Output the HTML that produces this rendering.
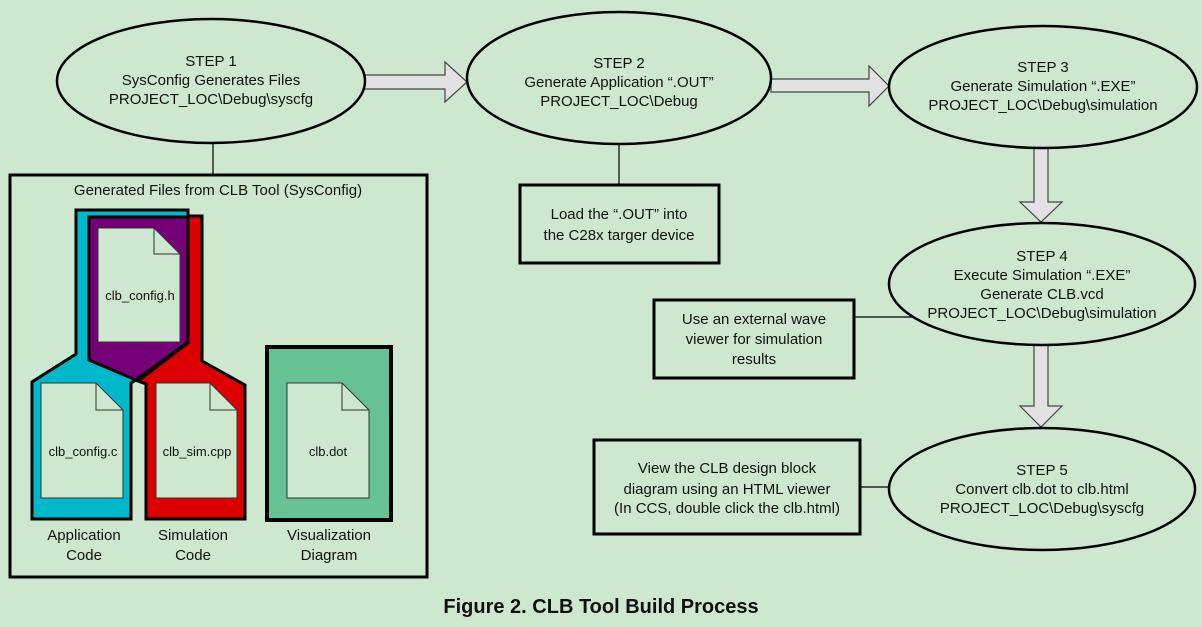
<!DOCTYPE html>
<html><head><meta charset="utf-8"><style>
html,body{margin:0;padding:0;background:#cde8cf;}
svg{display:block;font-family:"Liberation Sans",Arial,sans-serif;}
</style></head><body>
<svg width="1202" height="627" viewBox="0 0 1202 627" xmlns="http://www.w3.org/2000/svg">
<rect width="1202" height="627" fill="#cde8cf"/>
<g fill="#e2e2e2" stroke="#444" stroke-width="1.2">
<polygon points="364,75 445,75 445,62 467,82 445,102 445,89 364,89"/>
<polygon points="771,79 869,79 869,66 889,86 869,106 869,92 771,92"/>
<polygon points="1034,148 1048,148 1048,202 1062,202 1041,222 1020,202 1034,202"/>
<polygon points="1034,344 1048,344 1048,406 1062,406 1041,427 1020,406 1034,406"/>
</g>
<g stroke="#000" stroke-width="1.2">
<line x1="213" y1="142" x2="213" y2="175"/>
<line x1="619" y1="144" x2="619" y2="185"/>
<line x1="854" y1="317" x2="916" y2="317"/>
<line x1="860" y1="487" x2="890" y2="487"/>
</g>
<g fill="#cde8cf" stroke="#000" stroke-width="2.5">
<ellipse cx="211" cy="81" rx="154" ry="62"/>
<ellipse cx="619" cy="78" rx="152" ry="66"/>
<ellipse cx="1043" cy="87" rx="154" ry="61"/>
<ellipse cx="1042" cy="284" rx="153" ry="61"/>
<ellipse cx="1042" cy="489" rx="153" ry="61"/>
</g>
<g fill="none" stroke="#000" stroke-width="3">
<rect x="520" y="185" width="199" height="78"/>
<rect x="654" y="300" width="200" height="78"/>
<rect x="594" y="440" width="266" height="94"/>
<rect x="10" y="175" width="417" height="402"/>
</g>
<g font-size="15" fill="#111" text-anchor="middle">
<text x="211" y="66">STEP 1</text>
<text x="211" y="85">SysConfig Generates Files</text>
<text x="211" y="104">PROJECT_LOC\Debug\syscfg</text>
<text x="619" y="68">STEP 2</text>
<text x="619" y="87">Generate Application “.OUT”</text>
<text x="619" y="106">PROJECT_LOC\Debug</text>
<text x="1043" y="72">STEP 3</text>
<text x="1043" y="91">Generate Simulation “.EXE”</text>
<text x="1043" y="110">PROJECT_LOC\Debug\simulation</text>
<text x="1042" y="261">STEP 4</text>
<text x="1042" y="280">Execute Simulation “.EXE”</text>
<text x="1042" y="299">Generate CLB.vcd</text>
<text x="1042" y="318">PROJECT_LOC\Debug\simulation</text>
<text x="1042" y="475">STEP 5</text>
<text x="1042" y="494">Convert clb.dot to clb.html</text>
<text x="1042" y="513">PROJECT_LOC\Debug\syscfg</text>
<text x="619" y="219">Load the “.OUT” into</text>
<text x="619" y="240">the C28x targer device</text>
<text x="754" y="324">Use an external wave</text>
<text x="754" y="344">viewer for simulation</text>
<text x="754" y="364">results</text>
<text x="727" y="473">View the CLB design block</text>
<text x="727" y="494">diagram using an HTML viewer</text>
<text x="727" y="513">(In CCS, double click the clb.html)</text>
<text x="218" y="195">Generated Files from CLB Tool (SysConfig)</text>
</g>
<g stroke="#000" stroke-width="3" stroke-linejoin="miter">
<polygon fill="#00b8cc" points="76,210 188,210 188,342 136,380 131,383 131,519 32,519 32,382 76,354"/>
<polygon fill="#dd0000" points="188,216 202,216 202,361 245,385 245,519 146,519 146,384 138,381 188,343"/>
<polygon fill="#760078" points="89,217 188,217 188,342 136,380 89,360"/>
<rect x="267" y="347" width="124" height="173" fill="#66c194" stroke-width="4"/>
</g>
<g fill="#cde8cf" stroke="#333" stroke-width="1">
<path d="M98,228 H154 L180,254 V342 H98 Z"/><path d="M154,228 V254 H180" fill="none"/>
<path d="M41,383 H96 L123,410 V498 H41 Z"/><path d="M96,383 V410 H123" fill="none"/>
<path d="M156,383 H210 L237,410 V498 H156 Z"/><path d="M210,383 V410 H237" fill="none"/>
<path d="M287,383 H342 L369,410 V498 H287 Z"/><path d="M342,383 V410 H369" fill="none"/>
</g>
<g font-size="13" fill="#111" text-anchor="middle">
<text x="140" y="300">clb_config.h</text>
<text x="83" y="456">clb_config.c</text>
<text x="197" y="456">clb_sim.cpp</text>
<text x="328" y="456">clb.dot</text>
</g>
<g font-size="15" fill="#111" text-anchor="middle">
<text x="84" y="540">Application</text>
<text x="84" y="560">Code</text>
<text x="193" y="540">Simulation</text>
<text x="193" y="560">Code</text>
<text x="329" y="540">Visualization</text>
<text x="329" y="560">Diagram</text>
</g>
<text x="601" y="613" font-size="20" font-weight="bold" text-anchor="middle" fill="#111">Figure 2. CLB Tool Build Process</text>
</svg>
</body></html>
